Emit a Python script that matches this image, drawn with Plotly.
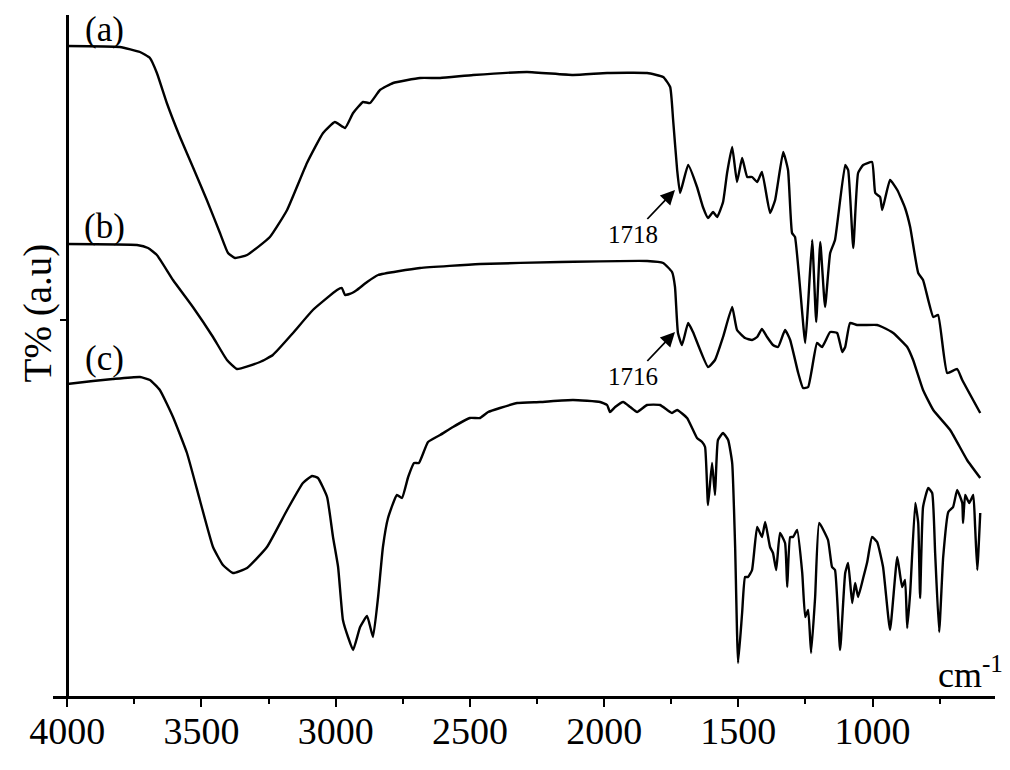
import plotly.graph_objects as go

# wavenumber (cm-1) and transmittance (arbitrary units, offset per curve)
wn_a = [4000, 3804, 3729, 3692, 3666, 3629, 3580, 3532, 3480, 3431, 3401, 3375, 3330, 3245, 3181,
        3107, 3047, 3003, 2965, 2935, 2898, 2872, 2835, 2786, 2686, 2611, 2488, 2287, 2116, 1989,
        1840, 1780, 1754, 1743, 1728, 1717, 1687, 1654, 1632, 1613, 1594, 1579, 1557, 1542, 1523,
        1505, 1486, 1467, 1449, 1430, 1412, 1382, 1363, 1333, 1315, 1300, 1289, 1251, 1240, 1225,
        1210, 1195, 1177, 1158, 1140, 1102, 1091, 1072, 1054, 1035, 1002, 990, 972, 964, 935,
        908, 879, 860, 830, 812, 774, 756, 722, 685, 666, 599]
t_a = [650, 649, 644, 638, 623, 593, 559, 529, 496, 463, 443, 438, 441, 459, 486,
       533, 563, 574, 568, 583, 594, 593, 606, 613, 618, 618, 621, 624, 621, 623,
       623, 619, 609, 576, 526, 503, 531, 509, 489, 478, 484, 479, 494, 523, 549,
       514, 538, 519, 519, 514, 524, 483, 496, 544, 526, 463, 459, 353, 393, 456,
       374, 454, 389, 443, 456, 531, 526, 448, 523, 531, 534, 503, 499, 486, 516,
       506, 488, 469, 423, 416, 379, 381, 323, 327, 316, 283]

wn_b = [4000, 3740, 3699, 3666, 3606, 3532, 3457, 3405, 3368, 3282, 3234, 3159, 3085, 2995, 2977,
        2965, 2939, 2921, 2883, 2842, 2686, 2462, 2164, 1840, 1780, 1747, 1736, 1725, 1710, 1687,
        1669, 1613, 1587, 1557, 1523, 1505, 1475, 1449, 1430, 1412, 1393, 1371, 1352, 1326, 1307,
        1277, 1259, 1240, 1207, 1188, 1158, 1132, 1113, 1102, 1084, 1058, 983, 964, 923, 871,
        849, 812, 774, 711, 648, 599]
t_b = [452, 451, 448, 441, 416, 389, 359, 336, 327, 334, 341, 363, 386, 406, 408,
       401, 403, 406, 414, 421, 428, 432, 434, 435, 433, 424, 409, 363, 351, 373,
       364, 329, 336, 359, 389, 366, 358, 356, 359, 367, 359, 351, 349, 366, 356,
       323, 308, 309, 353, 349, 364, 363, 344, 349, 373, 371, 371, 369, 363, 349,
       336, 306, 286, 266, 236, 218]

wn_c = [4000, 3904, 3830, 3729, 3692, 3655, 3606, 3554, 3506, 3457, 3420, 3383, 3330, 3256, 3181,
        3122, 3088, 3066, 3032, 3010, 2991, 2973, 2954, 2935, 2909, 2883, 2861, 2842, 2824, 2805,
        2772, 2753, 2730, 2708, 2690, 2656, 2611, 2563, 2500, 2462, 2432, 2388, 2324, 2239, 2116,
        2015, 1989, 1978, 1959, 1929, 1903, 1877, 1840, 1792, 1765, 1747, 1728, 1691, 1654, 1635,
        1624, 1613, 1598, 1587, 1576, 1557, 1538, 1523, 1512, 1501, 1486, 1475, 1464, 1449, 1430,
        1412, 1400, 1382, 1371, 1359, 1345, 1326, 1318, 1307, 1296, 1281, 1262, 1251, 1240, 1229,
        1214, 1199, 1166, 1151, 1140, 1121, 1102, 1091, 1076, 1065, 1054, 1035, 1020, 1002, 983,
        961, 935, 908, 890, 879, 871, 860, 841, 830, 823, 812, 793, 778, 767, 752,
        737, 718, 700, 685, 666, 663, 655, 640, 625, 618, 610, 599]
t_c = [312, 315, 317, 319, 316, 306, 279, 243, 196, 149, 131, 123, 128, 149, 186,
       213, 220, 218, 199, 159, 129, 76, 59, 46, 69, 80, 59, 99, 149, 178,
       201, 198, 219, 233, 233, 254, 261, 269, 278, 278, 284, 288, 293, 294, 296,
       294, 291, 284, 289, 294, 289, 284, 291, 291, 286, 283, 286, 278, 258, 254,
       249, 191, 233, 201, 256, 263, 256, 233, 149, 33, 83, 119, 119, 126, 169,
       159, 174, 149, 143, 126, 163, 153, 109, 159, 159, 166, 123, 79, 86, 43,
       99, 173, 156, 129, 126, 46, 123, 133, 93, 113, 99, 118, 134, 159, 154,
       129, 66, 139, 109, 116, 68, 103, 193, 173, 98, 189, 208, 203, 143, 64,
       139, 184, 189, 206, 193, 173, 201, 193, 201, 169, 126, 183]

x_ticks = [4000, 3500, 3000, 2500, 2000, 1500, 1000]
x_minor = [3750, 3250, 2750, 2250, 1750, 1250, 750]

SERIF = "Liberation Serif, Times New Roman, serif"

fig = go.Figure()
for wn, t in [(wn_a, t_a), (wn_b, t_b), (wn_c, t_c)]:
    fig.add_trace(go.Scatter(x=wn, y=t, mode="lines",
                             line=dict(color="black", width=2.4, shape="spline", smoothing=0.4),
                             showlegend=False, hoverinfo="skip"))

# curve labels
for lab, yv in [("(a)", 667), ("(b)", 470), ("(c)", 338)]:
    fig.add_annotation(x=3863, y=yv, text=lab, showarrow=False,
                       font=dict(family=SERIF, size=35, color="black"))

# carbonyl band markers
for lab, yv in [("1718", 506), ("1716", 364)]:
    fig.add_annotation(x=1736, y=yv, text=lab, showarrow=True, ax=-42, ay=44,
                       arrowhead=2, arrowsize=1.6, arrowwidth=1.8, arrowcolor="black", standoff=0,
                       font=dict(family=SERIF, size=25, color="black"))

fig.add_annotation(x=764, y=24, text="cm<sup>-1</sup>", showarrow=False, xanchor="left",
                   font=dict(family=SERIF, size=36, color="black"))

fig.add_annotation(xref="paper", yref="paper", x=-0.041, y=0.5624, text="T% (a.u)",
                   textangle=-90, showarrow=False,
                   font=dict(family=SERIF, size=39, color="black"))

fig.update_xaxes(range=[4053, 544], showgrid=False, zeroline=False,
                 showline=True, linecolor="black", linewidth=2.5,
                 tickmode="array", tickvals=x_ticks, ticks="outside", ticklen=8, tickwidth=2,
                 tickcolor="black", ticklabelstandoff=-8,
                 minor=dict(tickmode="array", tickvals=x_minor, ticks="outside", ticklen=5,
                            tickwidth=2, tickcolor="black"),
                 tickfont=dict(family=SERIF, size=38, color="black"))
fig.update_yaxes(range=[0, 681], showgrid=False, zeroline=False, anchor="free", position=0.0152,
                 showline=True, linecolor="black", linewidth=2.5,
                 tickmode="array", tickvals=[376], showticklabels=False, ticks="outside", ticklen=7,
                 tickwidth=1.5, tickcolor="black")

# the page body adds an 8 px margin, so the figure is a little smaller and shifted
fig.update_layout(width=1002, height=762, plot_bgcolor="white", paper_bgcolor="white",
                  margin=dict(l=45, r=15, t=7, b=74))

fig.write_html("out.html")
